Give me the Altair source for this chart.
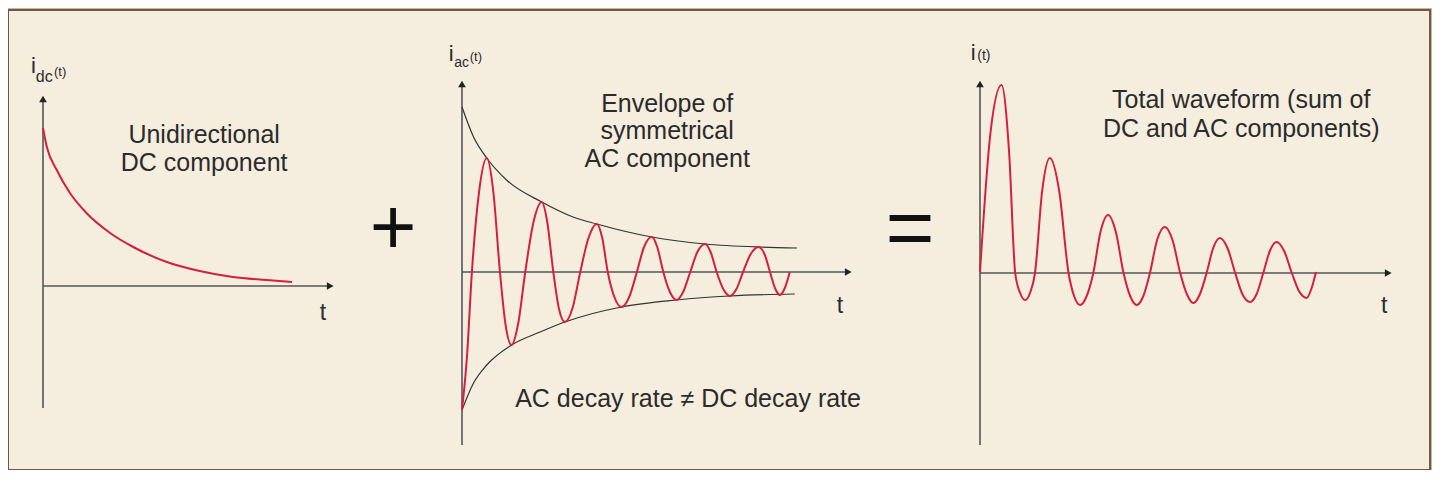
import altair as alt
import pandas as pd

# ---------------- data ----------------
# t in cycles, i in per-unit (arbitrary but common units for all panels)

# Panel 1: unidirectional DC component
dc_t = [0.00, 0.07, 0.25, 0.49, 0.79, 1.22, 1.64, 2.25, 2.85, 3.45, 4.07, 4.53]
dc_i = [1.58, 1.39, 1.16, 0.93, 0.73, 0.53, 0.39, 0.24, 0.15, 0.09, 0.06, 0.04]

# Panel 2: symmetrical AC component and its envelope
ac_t = [0.00, 0.09, 0.18, 0.31, 0.45, 0.57, 0.69, 0.79, 0.90, 1.02,
        1.15, 1.30, 1.45, 1.55, 1.66, 1.76, 1.87, 2.01,
        2.15, 2.30, 2.45, 2.55, 2.65, 2.77, 2.90, 3.04,
        3.18, 3.31, 3.45, 3.55, 3.66, 3.78, 3.90, 4.02,
        4.15, 4.28, 4.42, 4.52, 4.63, 4.75, 4.87, 4.99,
        5.11, 5.25, 5.39, 5.50, 5.60, 5.69, 5.78, 5.87, 5.96]
ac_i = [-1.38, -0.85, 0.00, 0.80, 1.14, 0.80, 0.00, -0.52, -0.73, -0.52,
        0.00, 0.50, 0.70, 0.50, 0.00, -0.36, -0.50, -0.36,
        0.00, 0.34, 0.48, 0.34, 0.00, -0.25, -0.35, -0.25,
        0.00, 0.25, 0.35, 0.25, 0.00, -0.20, -0.28, -0.20,
        0.00, 0.20, 0.28, 0.20, 0.00, -0.17, -0.24, -0.17,
        0.00, 0.18, 0.25, 0.18, 0.00, -0.16, -0.23, -0.16, 0.00]
env_up_t = [0.00, 0.21, 0.45, 0.81, 1.45, 2.02, 2.45, 3.45, 4.42, 5.39, 6.09]
env_up_i = [1.65, 1.35, 1.14, 0.92, 0.70, 0.55, 0.48, 0.35, 0.28, 0.25, 0.24]
env_lo_t = [0.00, 0.21, 0.45, 0.90, 1.42, 1.87, 2.90, 3.90, 4.87, 6.05]
env_lo_i = [-1.38, -1.11, -0.93, -0.73, -0.60, -0.50, -0.35, -0.28, -0.24, -0.22]

# Panel 3: total waveform (DC + AC)
tot_t = [0.00, 0.19, 0.39, 0.53, 0.64, 0.73, 0.82, 0.91,
         1.00, 1.13, 1.27, 1.44, 1.61, 1.71, 1.82, 1.94,
         2.06, 2.19, 2.33, 2.47, 2.61, 2.73, 2.85, 2.97,
         3.09, 3.22, 3.36, 3.50, 3.64, 3.76, 3.88, 4.00,
         4.12, 4.24, 4.36, 4.50, 4.64, 4.77, 4.91, 5.03,
         5.15, 5.27, 5.39, 5.53, 5.67, 5.80, 5.94, 6.03, 6.11]
tot_i = [0.01, 1.40, 1.88, 1.20, 0.00, -0.20, -0.27, -0.20,
         0.00, 0.82, 1.15, 0.82, 0.00, -0.23, -0.32, -0.23,
         0.00, 0.41, 0.58, 0.41, 0.00, -0.23, -0.32, -0.23,
         0.00, 0.33, 0.46, 0.33, 0.00, -0.21, -0.30, -0.21,
         0.00, 0.25, 0.35, 0.25, 0.00, -0.21, -0.29, -0.21,
         0.00, 0.22, 0.31, 0.22, 0.00, -0.18, -0.25, -0.15, 0.01]

# axis extents of the three panels (arrow tips)
axis_t_max = [5.35, 7.15, 7.55]
axis_i_max = [1.91, 1.92, 1.93]
axis_i_min = [-1.22, -1.73, -1.72]

# texts
title_1 = ["Unidirectional", "DC component"]
title_2 = ["Envelope of", "symmetrical", "AC component"]
note_2 = "AC decay rate \u2260 DC decay rate"
title_3 = ["Total waveform (sum of", "DC and AC components)"]
ylab_1 = ["i", "dc", "(t)"]
ylab_2 = ["i", "ac", "(t)"]
ylab_3 = ["i", "(t)"]
xlab = "t"

# ---------------- styling / layout ----------------
FONT = "Liberation Sans"
BEIGE = "#f5eddd"
TAN = "#d3b590"
FRAME = "#6a5a4a"
RED = "#d61f3d"
AXIS = "#555555"
ENV = "#333333"
TXT = "#2b2b2b"
PX_T = 55.0   # pixels per t unit
PX_I = 100.0  # pixels per i unit


def scales(ox, oy):
    xs = alt.Scale(domain=[0, 10], range=[ox, ox + 10 * PX_T], nice=False, zero=False)
    ys = alt.Scale(domain=[0, 1], range=[oy, oy - PX_I], nice=False, zero=False)
    return xs, ys


def text_at(xs, ys, label, t, i, size, align="center", color=TXT):
    df = pd.DataFrame({"t": [t], "i": [i], "label": [label]})
    return alt.Chart(df).mark_text(
        font=FONT, fontSize=size, align=align, baseline="alphabetic", color=color
    ).encode(
        x=alt.X("t:Q", scale=xs, axis=None),
        y=alt.Y("i:Q", scale=ys, axis=None),
        text="label:N",
    )


def panel(k, ox, oy, curves, texts):
    xs, ys = scales(ox, oy)
    tmax, imax, imin = axis_t_max[k], axis_i_max[k], axis_i_min[k]
    ah_t = 7.0 / PX_T
    ah_i = 4.0 / PX_I
    axes_df = pd.DataFrame({
        "t0": [0.0, 0.0], "t1": [tmax - ah_t, 0.0],
        "i0": [0.0, imin], "i1": [0.0, imax - ah_i],
    })
    axes = alt.Chart(axes_df).mark_rule(color=AXIS, strokeWidth=1.6).encode(
        x=alt.X("t0:Q", scale=xs, axis=None), x2="t1:Q",
        y=alt.Y("i0:Q", scale=ys, axis=None), y2="i1:Q",
    )
    up = alt.Chart(pd.DataFrame({"t": [0.0], "i": [imax - ah_i]})).mark_point(
        shape="triangle-up", filled=True, color="#222222", size=60, opacity=1
    ).encode(x=alt.X("t:Q", scale=xs, axis=None), y=alt.Y("i:Q", scale=ys, axis=None))
    right = alt.Chart(pd.DataFrame({"t": [tmax - ah_t], "i": [0.0]})).mark_point(
        shape="triangle-right", filled=True, color="#222222", size=60, opacity=1
    ).encode(x=alt.X("t:Q", scale=xs, axis=None), y=alt.Y("i:Q", scale=ys, axis=None))
    layers = [axes, up, right]
    for (tt, ii, color, width) in curves:
        df = pd.DataFrame({"t": tt, "i": ii})
        layers.append(
            alt.Chart(df).mark_line(interpolate="monotone", color=color, strokeWidth=width).encode(
                x=alt.X("t:Q", scale=xs, axis=None), y=alt.Y("i:Q", scale=ys, axis=None)
            )
        )
    for (label, t, i, size, align) in texts:
        layers.append(text_at(xs, ys, label, t, i, size, align))
    return alt.layer(*layers)


# view coordinates = page coordinates - (8, 10)
p1 = panel(
    0, 35, 276,
    [(dc_t, dc_i, RED, 2.0)],
    [
        (title_1[0], 2.93, 1.43, 25, "center"),
        (title_1[1], 2.93, 1.15, 25, "center"),
        (ylab_1[0], -0.22, 2.13, 22, "left"),
        (ylab_1[1], -0.13, 2.04, 16, "left"),
        (ylab_1[2], 0.20, 2.10, 13, "left"),
        (xlab, 5.09, -0.34, 23, "center"),
    ],
)
p2 = panel(
    1, 454, 262,
    [
        (env_up_t, env_up_i, ENV, 1.2),
        (env_lo_t, env_lo_i, ENV, 1.2),
        (ac_t, ac_i, RED, 2.0),
    ],
    [
        (title_2[0], 3.73, 1.60, 25, "center"),
        (title_2[1], 3.73, 1.33, 25, "center"),
        (title_2[2], 3.73, 1.05, 25, "center"),
        (note_2, 4.11, -1.35, 25, "center"),
        (ylab_2[0], -0.24, 2.11, 22, "left"),
        (ylab_2[1], -0.14, 2.05, 14, "left"),
        (ylab_2[2], 0.14, 2.11, 13, "left"),
        (xlab, 6.87, -0.41, 23, "center"),
    ],
)
p3 = panel(
    2, 972, 263,
    [(tot_t, tot_i, RED, 2.0)],
    [
        (title_3[0], 4.75, 1.65, 25, "center"),
        (title_3[1], 4.75, 1.36, 25, "center"),
        (ylab_3[0], -0.17, 2.13, 22, "left"),
        (ylab_3[1], -0.05, 2.13, 14, "left"),
        (xlab, 7.35, -0.40, 23, "center"),
    ],
)

one = pd.DataFrame({"a": [0]})
plus = alt.Chart(one).mark_text(
    text="+", font=FONT, fontSize=80, align="center", baseline="alphabetic", color="#111111"
).encode(x=alt.value(385), y=alt.value(244))
equals = alt.Chart(one).mark_text(
    text="=", font=FONT, fontSize=84, align="center", baseline="alphabetic", color="#111111"
).encode(x=alt.value(902), y=alt.value(246))

chart = alt.layer(p1, p2, p3, plus, equals).resolve_scale(
    x="independent", y="independent"
).properties(
    width=1424,
    height=462,
    padding={"left": 0, "top": 2, "right": 2, "bottom": 0},
    autosize=alt.AutoSizeParams(type="fit", contains="padding"),
    background=TAN,
).configure_view(fill=BEIGE, stroke=FRAME, strokeWidth=2)

chart.save("out.html", embed_options={"renderer": "svg", "actions": False})
